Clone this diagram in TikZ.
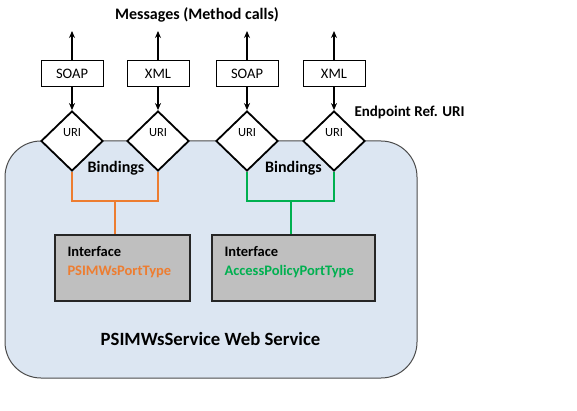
\documentclass[tikz,border=0pt]{standalone}
\usepackage{fontspec}
\setmainfont{Carlito}
\usetikzlibrary{shapes.geometric,arrows.meta}
\definecolor{svcfill}{RGB}{220,230,242}
\definecolor{ifill}{RGB}{191,191,191}
\definecolor{orng}{RGB}{237,125,49}
\definecolor{grn}{RGB}{0,176,80}
\tikzset{
  fmtbox/.style={draw=black, line width=1pt, fill=white, minimum width=62pt, minimum height=26pt, inner sep=0pt, font=\fontsize{14.5}{16}\selectfont},
  uri/.style={draw=black, line width=1.8pt, fill=white, diamond, minimum width=62pt, minimum height=60pt, inner sep=0pt},
  uritext/.style={font=\fontsize{12.5}{14}\selectfont},
  iface/.style={draw=black!85, line width=1.8pt, fill=ifill, minimum height=66pt, inner sep=0pt},
  arr/.style={line width=1.5pt, -{Stealth[length=7pt,width=6pt]}},
  iftext/.style={anchor=west, font=\fontsize{14.5}{16}\selectfont\bfseries},
  bindtext/.style={font=\fontsize{16}{18}\selectfont\bfseries},
  link/.style={line width=2pt},
}
\begin{document}
\begin{tikzpicture}[x=1pt,y=-1pt]
\useasboundingbox (0,0) rectangle (577,411);
% service container
\node[draw=black!70, line width=1pt, fill=svcfill, rounded corners=36pt, minimum width=412pt, minimum height=237pt, inner sep=0pt] (svc) at (211,259.5) {};
\node[font=\fontsize{18.7}{20}\selectfont\bfseries] (svclabel) at (210.5,339) {PSIMWsService Web Service};
% title
\node[font=\fontsize{16}{18}\selectfont\bfseries] (msg) at (197,15) {Messages (Method calls)};
% columns
\foreach \i/\x/\t in {1/72/SOAP,2/158/XML,3/247/SOAP,4/334/XML}{
  \node[fmtbox] (b\i) at (\x,74) {\t};
  \coordinate (top\i) at (\x,31);
  \node[uri] (d\i) at (\x,141) {};
  \node[uritext] (u\i) at (\x,133) {URI};
  \draw[arr] (b\i.north) -- (top\i);
  \draw[arr] (b\i.south) -- (d\i.north);
}
\node[font=\fontsize{15}{16}\selectfont\bfseries, anchor=west] (ep) at (351,112) {Endpoint Ref. URI};
% bindings
\node[bindtext] (bind1) at (116,168) {Bindings};
\node[bindtext] (bind2) at (293.5,168) {Bindings};
% interfaces
\node[iface, minimum width=135pt] (i1) at (122.5,268) {};
\node[iface, minimum width=163pt] (i2) at (293.5,268) {};
\node[iftext] (i1a) at (64,252) {Interface};
\node[iftext, text=orng] (i1b) at (64,272) {PSIMWsPortType};
\node[iftext] (i2a) at (221,252) {Interface};
\node[iftext, text=grn] (i2b) at (221,272) {AccessPolicyPortType};
% connectors
\coordinate (j1) at (115,201);
\coordinate (j2) at (290.5,201);
\draw[orng, link] (d1.south) |- (j1) -| (d2.south);
\draw[orng, link] (j1) -- (i1.north -| j1);
\draw[grn, link] (d3.south) |- (j2) -| (d4.south);
\draw[grn, link] (j2) -- (i2.north -| j2);
\end{tikzpicture}
\end{document}
